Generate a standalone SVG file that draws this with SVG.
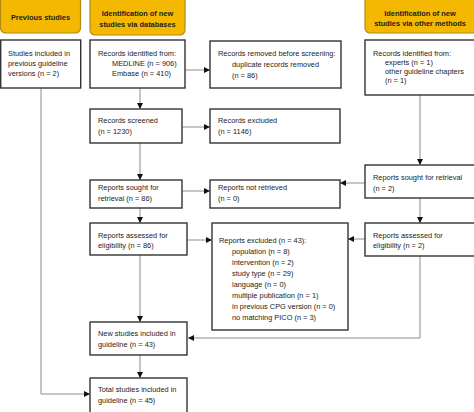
<svg xmlns="http://www.w3.org/2000/svg" width="474" height="412" viewBox="0 0 474 412">
<defs>
<style>
.hdr{fill:#F5B800;stroke:#B38A12;stroke-width:1.2}
.box{fill:#fff;stroke:#333;stroke-width:1.4}
.ht{font-family:"Liberation Sans",Arial,sans-serif;font-size:7.4px;font-weight:bold;fill:#222;text-anchor:middle}
.t{font-family:"Liberation Sans",Arial,sans-serif;font-size:7.4px;fill:#222}
.ln{fill:none;stroke:#8c8c8c;stroke-width:1}
</style>
<marker id="ah" viewBox="0 0 6 6" refX="6" refY="3" markerWidth="6" markerHeight="6" markerUnits="userSpaceOnUse" orient="auto">
<path d="M0,0 L6,3 L0,6 Z" fill="#111"/>
</marker>
</defs>
<rect width="474" height="412" fill="#fff"/>

<g id="connectors">
<path class="ln" d="M140,88 V109" marker-end="url(#ah)"/>
<path class="ln" d="M185,70 H210" marker-end="url(#ah)"/>
<path class="ln" d="M182,127 H210" marker-end="url(#ah)"/>
<path class="ln" d="M140,143 V180" marker-end="url(#ah)"/>
<path class="ln" d="M182,191 H210" marker-end="url(#ah)"/>
<path class="ln" d="M365,183 H340" marker-end="url(#ah)"/>
<path class="ln" d="M140,208 V223" marker-end="url(#ah)"/>
<path class="ln" d="M187,240 H212" marker-end="url(#ah)"/>
<path class="ln" d="M365,239 H348" marker-end="url(#ah)"/>
<path class="ln" d="M140,255 V322" marker-end="url(#ah)"/>
<path class="ln" d="M140,355 V378" marker-end="url(#ah)"/>
<path class="ln" d="M420,95 V165" marker-end="url(#ah)"/>
<path class="ln" d="M420,198 V223" marker-end="url(#ah)"/>
<path class="ln" d="M420,256 V338 H188" marker-end="url(#ah)"/>
<path class="ln" d="M41,88 V394 H90" marker-end="url(#ah)"/>
</g>

<g id="hdr-previous">
<rect class="hdr" x="0.5" y="-4" width="80" height="37" rx="5"/>
<text class="ht" x="40.5" y="20">Previous studies</text>
</g>
<g id="hdr-databases">
<rect class="hdr" x="90" y="-4" width="95" height="39" rx="5"/>
<text class="ht" x="137.5" y="16">Identification of new</text>
<text class="ht" x="137.5" y="27">studies via databases</text>
</g>
<g id="hdr-other">
<rect class="hdr" x="365" y="-4" width="112" height="37" rx="5"/>
<text class="ht" x="420" y="16">Identification of new</text>
<text class="ht" x="420" y="26">studies via other methods</text>
</g>

<g id="prev-included">
<rect class="box" x="0.7" y="40" width="80" height="48"/>
<text class="t" x="8" y="55.5">Studies included in</text>
<text class="t" x="8" y="65.5">previous guideline</text>
<text class="t" x="8" y="75.5">versions (n = 2)</text>
</g>
<g id="records-identified">
<rect class="box" x="90" y="40" width="95" height="48"/>
<text class="t" x="98" y="55.5">Records identified from:</text>
<text class="t" x="112" y="65.5">MEDLINE (n = 906)</text>
<text class="t" x="112" y="75.5">Embase (n = 410)</text>
</g>
<g id="records-removed">
<rect class="box" x="210" y="41" width="131" height="47"/>
<text class="t" x="218" y="56">Records removed before screening:</text>
<text class="t" x="232" y="67">duplicate records removed</text>
<text class="t" x="232" y="78">(n = 86)</text>
</g>
<g id="other-identified">
<rect class="box" x="365" y="40" width="112" height="55"/>
<text class="t" x="373" y="55.5">Records identified from:</text>
<text class="t" x="385" y="64.5">experts (n = 1)</text>
<text class="t" x="385" y="73.5">other guideline chapters</text>
<text class="t" x="385" y="82.5">(n = 1)</text>
</g>
<g id="records-screened">
<rect class="box" x="90" y="109" width="92" height="34"/>
<text class="t" x="98" y="123">Records screened</text>
<text class="t" x="98" y="134">(n = 1230)</text>
</g>
<g id="records-excluded">
<rect class="box" x="210" y="109" width="130" height="34"/>
<text class="t" x="218" y="123">Records excluded</text>
<text class="t" x="218" y="134">(n = 1146)</text>
</g>
<g id="reports-sought">
<rect class="box" x="90" y="180" width="92" height="28"/>
<text class="t" x="98" y="190">Reports sought for</text>
<text class="t" x="98" y="201">retrieval (n = 86)</text>
</g>
<g id="reports-not-retrieved">
<rect class="box" x="210" y="180" width="130" height="28"/>
<text class="t" x="218" y="190">Reports not retrieved</text>
<text class="t" x="218" y="201">(n = 0)</text>
</g>
<g id="other-sought">
<rect class="box" x="365" y="165" width="112" height="33"/>
<text class="t" x="373" y="180">Reports sought for retrieval</text>
<text class="t" x="373" y="191">(n = 2)</text>
</g>
<g id="reports-assessed">
<rect class="box" x="90" y="223" width="97" height="32"/>
<text class="t" x="98" y="238">Reports assessed for</text>
<text class="t" x="98" y="248">eligibility (n = 86)</text>
</g>
<g id="reports-excluded">
<rect class="box" x="212" y="223" width="136" height="107"/>
<text class="t" x="219" y="242.5">Reports excluded (n = 43):</text>
<text class="t" x="232" y="253.5">population (n = 8)</text>
<text class="t" x="232" y="264.5">intervention (n = 2)</text>
<text class="t" x="232" y="275.5">study type (n = 29)</text>
<text class="t" x="232" y="286.5">language (n = 0)</text>
<text class="t" x="232" y="297.5">multiple publication (n = 1)</text>
<text class="t" x="232" y="308.5">in previous CPG version (n = 0)</text>
<text class="t" x="232" y="319.5">no matching PICO (n = 3)</text>
</g>
<g id="other-assessed">
<rect class="box" x="365" y="223" width="112" height="33"/>
<text class="t" x="373" y="238">Reports assessed for</text>
<text class="t" x="373" y="248">eligibility (n = 2)</text>
</g>
<g id="new-included">
<rect class="box" x="90" y="322" width="97" height="33"/>
<text class="t" x="98" y="336">New studies included in</text>
<text class="t" x="98" y="347">guideline (n = 43)</text>
</g>
<g id="total-included">
<rect class="box" x="90" y="378" width="97" height="40"/>
<text class="t" x="98" y="392">Total studies included in</text>
<text class="t" x="98" y="403">guideline (n = 45)</text>
</g>
</svg>
